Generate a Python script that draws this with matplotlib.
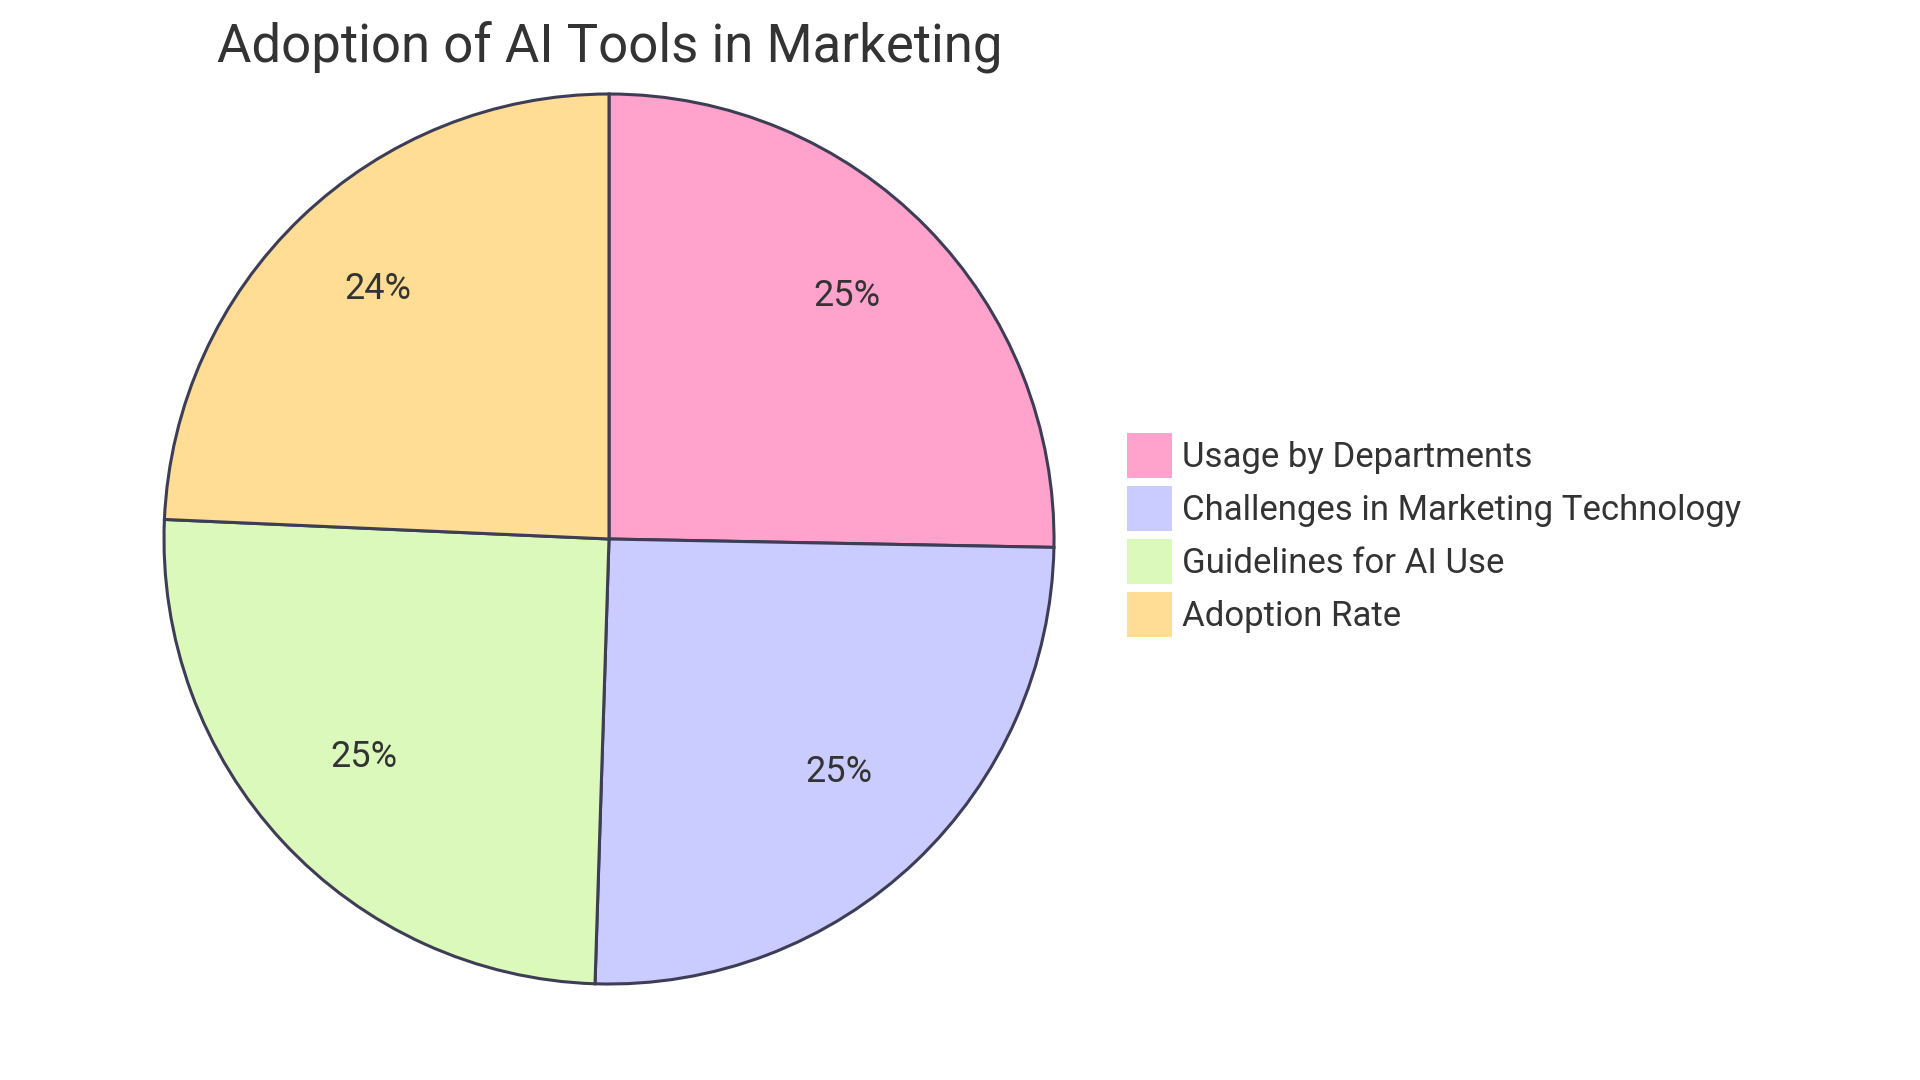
import matplotlib
matplotlib.use('Agg')
from matplotlib import pyplot as plt
from matplotlib.patches import Patch

labels = ['Usage by Departments', 'Challenges in Marketing Technology',
          'Guidelines for AI Use', 'Adoption Rate']
values = [25.3, 25.2, 25.2, 24.3]
colors = ['#FFA3CC', '#CACBFF', '#DBF9BB', '#FFDD94']

plt.rcParams['font.family'] = ['Roboto', 'DejaVu Sans']
textcol = '#333333'
edgecol = '#3d3d55'

W, H = 1920, 1080
fig = plt.figure(figsize=(W / 100, H / 100), dpi=100)

# pie axes, centre (609,539), radius 445 px
cx, cy, r = 609, 539, 445
ax = fig.add_axes([(cx - r) / W, (H - cy - r) / H, 2 * r / W, 2 * r / H])
wedges, texts, autotexts = ax.pie(values, colors=colors, startangle=90, counterclock=False,
                                  autopct='%.0f%%', pctdistance=0.75,
                                  wedgeprops=dict(edgecolor=edgecol, linewidth=2.2),
                                  textprops=dict(fontsize=26, color=textcol))
for w in wedges:
    w.set_clip_on(False)
# nudge labels up a little (centred on cap height, not full box)
for t in autotexts:
    x, y = t.get_position()
    t.set_position((x, y + 9 / r))
ax.set_xlim(-1, 1)
ax.set_ylim(-1, 1)
ax.set_aspect('equal')
ax.axis('off')

fig.text(610 / W, 1 - 62 / H, 'Adoption of AI Tools in Marketing', ha='center', va='baseline',
         fontsize=38, color=textcol)

handles = [Patch(facecolor=c, edgecolor='none') for c in colors]
fs = 25
px = fs * 100 / 72
hh = (45 / px - 0.245) / 0.65
fig.legend(handles, labels, loc='upper left', bbox_to_anchor=(1127 / W, 1 - 433 / H),
           frameon=False, fontsize=fs, labelcolor=textcol, borderpad=0, borderaxespad=0,
           handlelength=45 / px, handleheight=hh, handletextpad=10 / px,
           labelspacing=8 / px)

fig.savefig('out.png', dpi=100, facecolor='white')
